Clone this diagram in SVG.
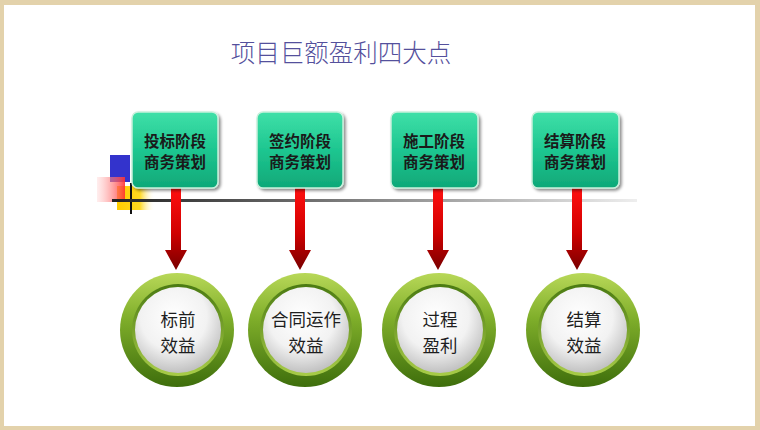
<svg xmlns="http://www.w3.org/2000/svg" width="760" height="430" viewBox="0 0 760 430">
<defs>
<linearGradient id="boxG" x1="0" y1="0" x2="0" y2="1">
<stop offset="0" stop-color="#3fe0a8"/>
<stop offset="0.5" stop-color="#1ec690"/>
<stop offset="1" stop-color="#0fa878"/>
</linearGradient>
<linearGradient id="arrG" x1="0" y1="0" x2="0" y2="1">
<stop offset="0" stop-color="#ff1010"/>
<stop offset="0.55" stop-color="#d00000"/>
<stop offset="1" stop-color="#780000"/>
</linearGradient>
<linearGradient id="lineG" x1="0" y1="0" x2="1" y2="0">
<stop offset="0" stop-color="#222"/>
<stop offset="0.5" stop-color="#888"/>
<stop offset="1" stop-color="#eee"/>
</linearGradient>
<linearGradient id="ringG" x1="0" y1="0" x2="0" y2="1">
<stop offset="0" stop-color="#b8d858"/>
<stop offset="0.4" stop-color="#7fae2a"/>
<stop offset="1" stop-color="#3e6e0c"/>
</linearGradient>
<linearGradient id="ringIn" x1="0" y1="0" x2="0" y2="1">
<stop offset="0" stop-color="#4a7a12"/>
<stop offset="1" stop-color="#a8cc48"/>
</linearGradient>
<radialGradient id="ballG" cx="0.45" cy="0.35" r="0.7">
<stop offset="0" stop-color="#ffffff"/>
<stop offset="0.55" stop-color="#f2f2f2"/>
<stop offset="1" stop-color="#b8b8b8"/>
</radialGradient>
<linearGradient id="pinkG" x1="0" y1="0" x2="1" y2="0">
<stop offset="0" stop-color="#ffd0d0" stop-opacity="0.4"/>
<stop offset="1" stop-color="#ff3030"/>
</linearGradient>
<linearGradient id="yelG" x1="0" y1="0" x2="1" y2="0">
<stop offset="0" stop-color="#ffcc00"/>
<stop offset="0.6" stop-color="#ffd820"/>
<stop offset="1" stop-color="#ffffff" stop-opacity="0"/>
</linearGradient>
<filter id="sh" x="-10%" y="-10%" width="130%" height="130%">
<feDropShadow dx="2" dy="2" stdDeviation="1.5" flood-color="#000" flood-opacity="0.45"/>
</filter>
</defs>
<style>
.box{fill:url(#boxG);stroke:#c8f0dc;stroke-width:1.5;filter:url(#sh)}
.bt{font-family:"Noto Sans CJK SC","Noto Sans",sans-serif;font-size:15.5px;font-weight:bold;fill:#1a1a1a;text-anchor:middle}
.ct{font-family:"Noto Sans CJK SC","Noto Sans",sans-serif;font-size:17.5px;fill:#1e1e1e;text-anchor:middle}
.arr{fill:url(#arrG)}
.ring{fill:url(#ringG)}
.rin{fill:url(#ringIn)}
.ball{fill:url(#ballG)}
</style>
<rect x="0" y="0" width="760" height="430" fill="#e3d2ab"/>
<rect x="4" y="5" width="751" height="421" fill="#ffffff"/>
<text x="341" y="62" font-family="Noto Sans CJK SC, sans-serif" font-size="24.5" font-weight="300" fill="#54509c" text-anchor="middle">项目巨额盈利四大点</text>
<g id="deco">
<rect x="110" y="155" width="20" height="27" fill="#3333cc"/>
<rect x="117" y="186" width="38" height="24" fill="url(#yelG)"/>
<rect x="97" y="177" width="28" height="25" fill="url(#pinkG)" opacity="0.9"/>
<line x1="131" y1="183" x2="131" y2="214" stroke="#111" stroke-width="2"/>
</g>
<rect x="112" y="199" width="525" height="3" fill="url(#lineG)"/>
<g id="connectors">
<polygon class="arr" points="171,188 181,188 181,250 187,250 176,270 165,250 171,250"/>
<polygon class="arr" points="295,188 305,188 305,250 311,250 300,270 289,250 295,250"/>
<polygon class="arr" points="433,188 443,188 443,250 449,250 438,270 427,250 433,250"/>
<polygon class="arr" points="572,188 582,188 582,250 588,250 577,270 566,250 572,250"/>
</g>
<g id="box1"><rect class="box" x="132" y="112" width="86" height="76" rx="6"/><text class="bt" x="175" y="147">投标阶段</text><text class="bt" x="175" y="168">商务策划</text></g>
<g id="box2"><rect class="box" x="257" y="112" width="86" height="76" rx="6"/><text class="bt" x="300" y="147">签约阶段</text><text class="bt" x="300" y="168">商务策划</text></g>
<g id="box3"><rect class="box" x="391" y="112" width="87" height="76" rx="6"/><text class="bt" x="434" y="147">施工阶段</text><text class="bt" x="434" y="168">商务策划</text></g>
<g id="box4"><rect class="box" x="532" y="112" width="87" height="76" rx="6"/><text class="bt" x="575" y="147">结算阶段</text><text class="bt" x="575" y="168">商务策划</text></g>
<g id="c1"><circle class="ring" cx="177" cy="330" r="57"/><circle class="rin" cx="178" cy="330" r="46"/><circle class="ball" cx="178" cy="330" r="43"/><text class="ct" x="178" y="326">标前</text><text class="ct" x="178" y="352">效益</text></g>
<g id="c2"><circle class="ring" cx="305" cy="330" r="57"/><circle class="rin" cx="306" cy="330" r="46"/><circle class="ball" cx="306" cy="330" r="43"/><text class="ct" x="306" y="326">合同运作</text><text class="ct" x="306" y="352">效益</text></g>
<g id="c3"><circle class="ring" cx="439" cy="330" r="57"/><circle class="rin" cx="440" cy="330" r="46"/><circle class="ball" cx="440" cy="330" r="43"/><text class="ct" x="440" y="326">过程</text><text class="ct" x="440" y="352">盈利</text></g>
<g id="c4"><circle class="ring" cx="583" cy="330" r="57"/><circle class="rin" cx="584" cy="330" r="46"/><circle class="ball" cx="584" cy="330" r="43"/><text class="ct" x="584" y="326">结算</text><text class="ct" x="584" y="352">效益</text></g>
</svg>
